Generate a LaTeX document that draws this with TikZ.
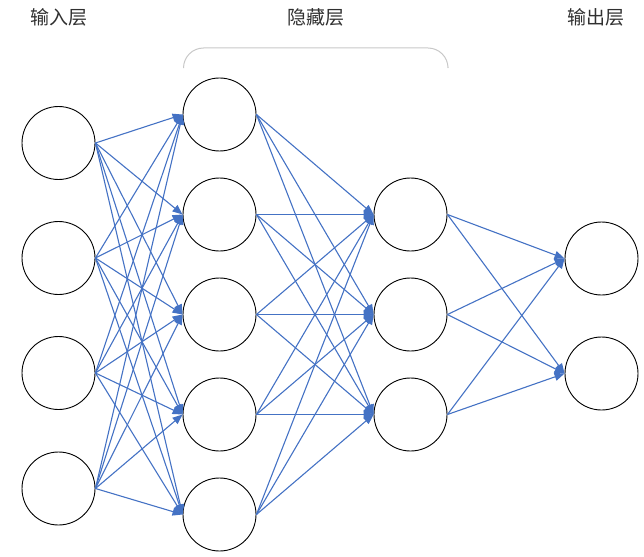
\documentclass[tikz,border=0pt]{standalone}
\usepackage{fontspec}
\newfontfamily\cjk{Noto Sans CJK SC}
\usetikzlibrary{arrows.meta}
\definecolor{linkblue}{HTML}{4472C4}
\definecolor{bracegray}{HTML}{C8C8C8}
\definecolor{labelgray}{HTML}{303030}
\tikzset{
  neuron/.style={circle, draw=black, line width=0.9pt, minimum size=73pt, inner sep=0pt},
  link/.style={draw=linkblue, line width=1.1pt, -{Triangle[length=10pt,width=8pt]}},
  layerlabel/.style={font=\cjk\fontsize{19}{21}\selectfont, text=labelgray, inner sep=0pt},
}
\begin{document}
\begin{tikzpicture}[x=1pt,y=-1pt]
\useasboundingbox (0,0) rectangle (644,556);
% labels
\node[layerlabel] (lin) at (59,17) {输入层};
\node[layerlabel] (lhid) at (315.5,17) {隐藏层};
\node[layerlabel] (lout) at (596,17) {输出层};
% brace
\draw[bracegray, line width=1pt, rounded corners=20pt] (183.5,67) |- (448,48) -- (448,67);
% input layer
\foreach \i/\y in {1/143,2/258,3/373,4/488.5}
  \node[neuron] (a\i) at (58.5,\y) {};
% hidden 1
\foreach \i/\y in {1/114.5,2/214.5,3/314.5,4/414.5,5/514.5}
  \node[neuron] (b\i) at (219.5,\y) {};
% hidden 2
\foreach \i/\y in {1/214.5,2/314.5,3/414.5}
  \node[neuron] (c\i) at (410.5,\y) {};
% output
\foreach \i/\y in {1/258.5,2/373.5}
  \node[neuron] (d\i) at (601.5,\y) {};
% connections
\foreach \i in {1,...,4}
  \foreach \j in {1,...,5}
    \draw[link] (a\i.east) -- (b\j.west);
\foreach \i in {1,...,5}
  \foreach \j in {1,...,3}
    \draw[link] (b\i.east) -- (c\j.west);
\foreach \i in {1,...,3}
  \foreach \j in {1,2}
    \draw[link] (c\i.east) -- (d\j.west);
\end{tikzpicture}
\end{document}
